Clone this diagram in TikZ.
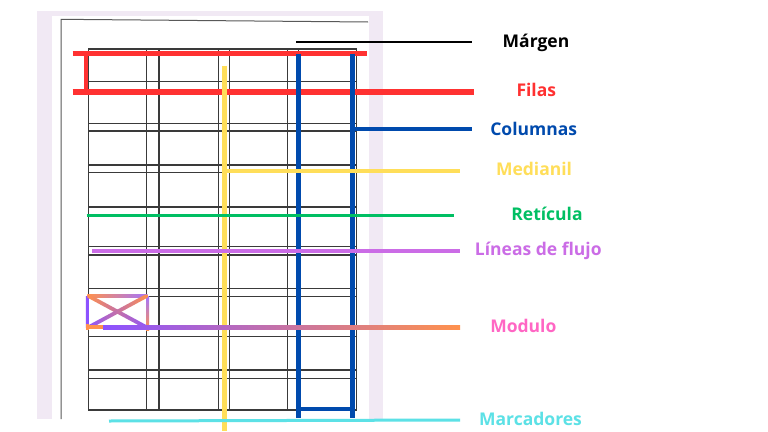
\documentclass[tikz,border=0pt]{standalone}
\usepackage{fontspec}
\setmainfont{Open Sans}
\definecolor{lav}{HTML}{F1E9F4}
\definecolor{cred}{HTML}{FF3131}
\definecolor{cblue}{HTML}{004AAD}
\definecolor{cyel}{HTML}{FFDE59}
\definecolor{cgreen}{HTML}{00BF63}
\definecolor{cpurp}{HTML}{CB6CE6}
\definecolor{cpink}{HTML}{FF66C4}
\definecolor{ccyan}{HTML}{5CE1E6}
\definecolor{gv}{HTML}{8C52FF}
\definecolor{go}{HTML}{FF914D}
\definecolor{gridc}{HTML}{3A3A3A}
\begin{document}
\begin{tikzpicture}[x=1pt,y=-1pt,
  lbl/.style={font=\bfseries\fontsize{17.5}{20}\selectfont, inner sep=0pt, anchor=center},
  gridline/.style={draw=gridc, line width=1.1pt},
  thick5/.style={line width=5pt},
]
\useasboundingbox (0,0) rectangle (768,431);
\fill[white] (0,0) rectangle (768,431);
% page
\fill[lav] (37,11) rectangle (383,419);
\fill[white] (51.5,16) rectangle (369,419);
\draw[gray!70!black, line width=1pt] (61,419) -- (61,19.3) -- (368,22);
% grid
\foreach \y in {49,81.7,90,123.3,131,165,172.7,207,215,246.7,255,288.3,296.7,327.3,336.7,370,378.3,410}
  \draw[gridline] (88.3,\y) -- (356.5,\y);
\foreach \x in {88.3,146.7,159,218.3,229.3,287.7,298.3,356.5}
  \draw[gridline] (\x,49) -- (\x,410);
% margin
\coordinate (mg0) at (296,42.3);
\coordinate (mg1) at (471.7,42.3);
\draw[black, line width=2pt] (mg0) -- (mg1);
% rows
\coordinate (r0) at (72.7,53.7);
\coordinate (r1) at (367.3,53.7);
\coordinate (r2) at (72.7,92);
\coordinate (r3) at (474,92);
\draw[cred, line width=5.5pt] (r0) -- (r1);
\draw[cred, line width=5.5pt] (r2) -- (r3);
\draw[cred, line width=3.5pt] (86,53.7) -- (86,92);
% columns
\coordinate (c0) at (298.3,53.7);
\coordinate (c1) at (298.3,418);
\coordinate (c2) at (352.7,53.7);
\coordinate (c3) at (352.7,418);
\draw[cblue, thick5] (c0) -- (c1);
\draw[cblue, thick5] (c2) -- (c3);
\draw[cblue, line width=4pt] (298.3,409) -- (352.7,409);
\coordinate (c4) at (352.7,129);
\coordinate (c5) at (471.7,129);
\draw[cblue, line width=3.5pt] (c4) -- (c5);
% gutter
\coordinate (y0) at (224.5,65.7);
\coordinate (y1) at (224.5,431);
\coordinate (y2) at (224.5,171);
\coordinate (y3) at (460,171);
\draw[cyel, line width=5pt] (y0) -- (y1);
\draw[cyel, line width=3.5pt] (y2) -- (y3);
% grid line green
\coordinate (g0) at (86.7,215.5);
\coordinate (g1) at (454,215.5);
\draw[cgreen, line width=3.8pt] (g0) -- (g1);
% flow line
\coordinate (p0) at (92.3,251);
\coordinate (p1) at (460,251);
\draw[cpurp, line width=4pt] (p0) -- (p1);
% module
\shade[left color=go, right color=gv!80!white] (87.3,294.5) rectangle (147.7,297.5);
\shade[top color=gv, bottom color=gv] (85.8,296) rectangle (88.8,327.3);
\shade[top color=gv!80!white, bottom color=go] (146.2,296) rectangle (149.2,330);
\fill[go] (85.8,324) rectangle (88.8,330);
\shade[left color=go, right color=gv] (87.3,294.5) -- (89.8,294.5) -- (147.7,325.8) -- (147.7,328.8) -- (145.2,328.8) -- (87.3,297.5) -- cycle;
\shade[left color=gv, right color=go] (147.7,294.5) -- (145.2,294.5) -- (87.3,325.8) -- (87.3,328.8) -- (89.8,328.8) -- (147.7,297.5) -- cycle;
\fill[go] (87,325.3) rectangle (103,329.3);
\shade[left color=gv, right color=go] (103,325.3) rectangle (460,329.3);
% markers
\coordinate (m0) at (109,421);
\coordinate (m1) at (460,420);
\draw[ccyan, line width=3pt] (m0) -- (m1);
% labels
\node[lbl, text=black] (lmargen) at (536,43) {Márgen};
\node[lbl, text=cred] (lfilas) at (536.3,90) {Filas};
\node[lbl, text=cblue] (lcol) at (533.7,129.3) {Columnas};
\node[lbl, text=cyel] (lmed) at (534,169) {Medianil};
\node[lbl, text=cgreen] (lret) at (547,214.3) {Retícula};
\node[lbl, text=cpurp] (llin) at (538.3,251) {Líneas de flujo};
\node[lbl, text=cpink] (lmod) at (523.3,326) {Modulo};
\node[lbl, text=ccyan] (lmar) at (530.5,419) {Marcadores};
\end{tikzpicture}
\end{document}
